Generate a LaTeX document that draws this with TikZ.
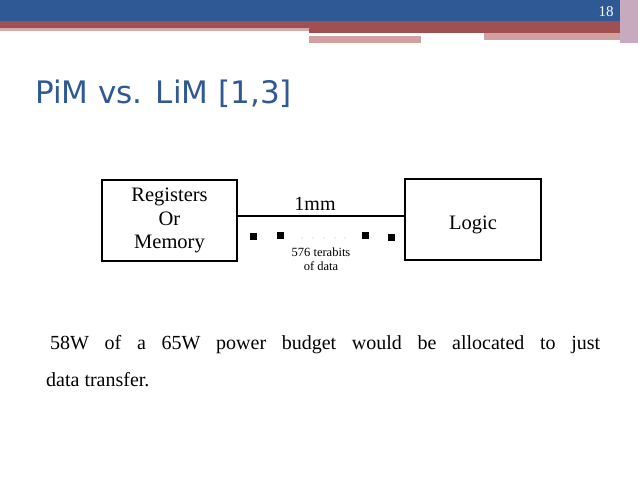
\documentclass[tikz,border=0pt]{standalone}
\usepackage{fontspec}
\setmainfont{Liberation Serif}
\newfontfamily\titlefont{DejaVu Sans}
\definecolor{sblue}{RGB}{46,89,148}
\definecolor{sred}{RGB}{160,80,80}
\definecolor{spink}{RGB}{215,170,170}
\definecolor{spink2}{RGB}{210,160,160}
\definecolor{sedge}{RGB}{200,170,190}
\begin{document}
\begin{tikzpicture}[x=1pt,y=-1pt,
  box/.style={draw,line width=2pt,anchor=north west,inner sep=0pt},
  sq/.style={fill=black,minimum size=7pt,inner sep=0pt},
  lbl/.style={font=\fontsize{20.5}{23.5}\selectfont,align=center}]
\useasboundingbox (0,0) rectangle (638,478);
\fill[white] (0,0) rectangle (638,478);
\fill[sblue] (0,0) rectangle (638,21);
\fill[sred] (0,21) rectangle (638,28);
\fill[sred] (309,28) rectangle (638,33);
\fill[spink] (0,28) rectangle (309,31);
\fill[spink2] (484,33) rectangle (638,40);
\fill[spink2] (309,36) rectangle (421,43);
\fill[sedge] (620,0) rectangle (638,43);
\node[white,font=\fontsize{15}{17}\selectfont] (num) at (606,12) {18};
\node[anchor=base west,inner sep=0pt,font=\titlefont\fontsize{31}{34}\selectfont,text=sblue] (title) at (35,104) {PiM vs. LiM [1,3]};
\node[box,minimum width=135pt,minimum height=81pt] (reg) at (101,179) {};
\node[lbl] at (reg.center) {Registers\\Or\\Memory};
\node[box,minimum width=136pt,minimum height=81pt] (log) at (404,178) {};
\node[lbl] at ([yshift=-5pt]log.center) {Logic};
\draw[line width=2pt] (reg.east |- 0,216) -- (log.west |- 0,216);
\node[font=\fontsize{20}{22}\selectfont] (mm) at (315,204) {1mm};
\node[sq] (s1) at (253,237) {};
\node[sq] (s2) at (280,236) {};
\node[sq] (s3) at (365,236) {};
\node[sq] (s4) at (391,238) {};
\foreach \x in {302,313,324,335,345} \fill[gray!60] (\x,238) circle (0.6);
\node[font=\fontsize{12.5}{14.5}\selectfont,align=center] (tb) at (321,259) {576 terabits\\of data};
\node[anchor=base west,inner sep=0pt,align=left,font=\fontsize{20}{37}\selectfont] (par) at (50,350) {\makebox[550pt][s]{58W of a 65W power budget would be allocated to just}};
\node[anchor=base west,inner sep=0pt,font=\fontsize{20}{37}\selectfont] (par2) at (46,387) {data transfer.};
\end{tikzpicture}
\end{document}
